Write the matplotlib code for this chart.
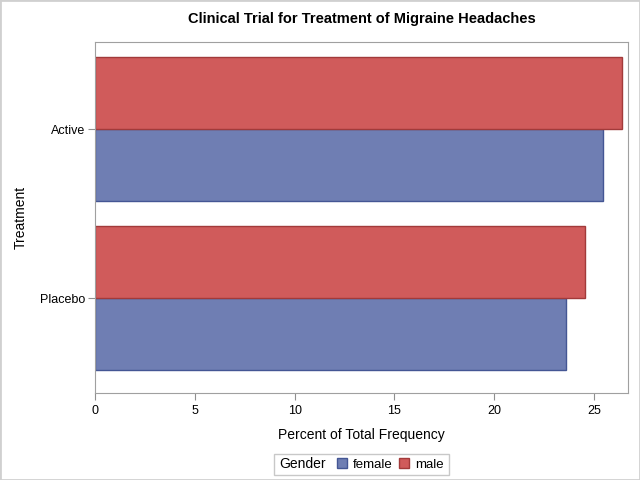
import matplotlib
matplotlib.use("Agg")
import matplotlib.pyplot as plt
from matplotlib.patches import Rectangle, Patch

treatments = ["Active", "Placebo"]
genders = ["female", "male"]
female_pct = [25.47, 23.58]
male_pct = [26.42, 24.53]
xticks = [0, 5, 10, 15, 20, 25]

plt.rcParams['font.family'] = ['Liberation Sans', 'DejaVu Sans']

fig = plt.figure(figsize=(6.4, 4.8), dpi=100)
W, H = 640, 480
left, right, top, bottom = 95, 628, 42, 393
ax = fig.add_axes([left / W, 1 - bottom / H, (right - left) / W, (bottom - top) / H])

fc = {"female": "#6F7EB3", "male": "#D05B5B"}
ec = {"female": "#445694", "male": "#A23A3A"}
bh = 0.425
ypos = list(range(len(treatments)))
ax.barh([y + bh / 2 for y in ypos], female_pct, height=bh, color=fc["female"],
        edgecolor=ec["female"], linewidth=1, label="female")
ax.barh([y - bh / 2 for y in ypos], male_pct, height=bh, color=fc["male"],
        edgecolor=ec["male"], linewidth=1, label="male")

ax.set_ylim(1.562, -0.515)
ax.set_xlim(0, 26.7)
ax.set_yticks(ypos)
ax.set_yticklabels(treatments, fontsize=9)
ax.set_xticks(xticks)
ax.set_xticklabels([str(t) for t in xticks], fontsize=9)
ax.tick_params(colors="#000000", length=5, color="#8F8F8F")
ax.tick_params(axis="y", pad=2)
for s in ax.spines.values():
    s.set_color("#A0A0A0")
ax.set_xlabel("Percent of Total Frequency", fontsize=10, labelpad=8)
ax.set_ylabel("Treatment", fontsize=10, labelpad=9)
fig.text(362 / W, 1 - 19 / H, "Clinical Trial for Treatment of Migraine Headaches",
         ha="center", va="center", fontsize=10.5, fontweight="bold")

# legend
lx0, lx1, ly0, ly1 = 274, 449, 454, 475
fig.patches.append(Rectangle((lx0 / W, 1 - ly1 / H), (lx1 - lx0) / W, (ly1 - ly0) / H,
                             transform=fig.transFigure, fill=False, edgecolor="#C8C8C8", linewidth=1))
fig.text(279 / W, 1 - 464.5 / H, "Gender", ha="left", va="center", fontsize=10)
handles = [Patch(facecolor=fc[g], edgecolor=ec[g], label=g) for g in genders]
fig.legend(handles=handles, loc="center", bbox_to_anchor=(390 / W, 1 - 464.5 / H), ncol=2,
           frameon=False, fontsize=9.5, handlelength=0.8, handleheight=0.8, handletextpad=0.4,
           columnspacing=0.5, borderpad=0)

fig.patches.append(Rectangle((0, 0), 1, 1, transform=fig.transFigure, fill=False,
                             edgecolor="#D0D0D0", linewidth=2))
fig.savefig("out.png", dpi=100)
